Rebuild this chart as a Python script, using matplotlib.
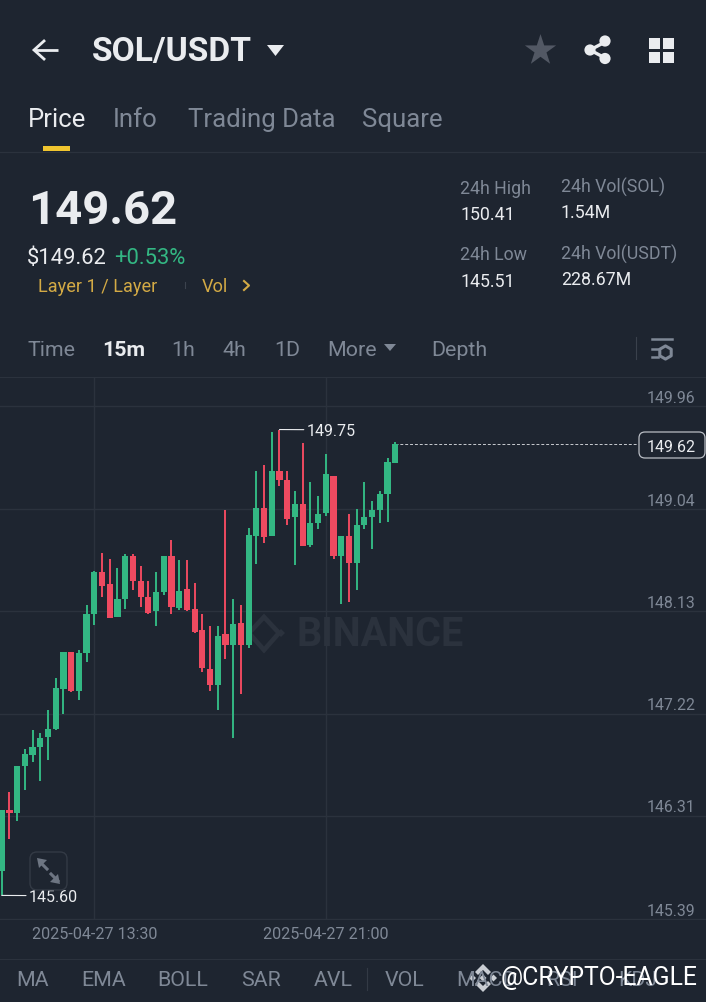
import matplotlib
matplotlib.use("Agg")
import matplotlib.pyplot as plt
from matplotlib.patches import Rectangle, FancyBboxPatch, Polygon, Circle

plt.rcParams['font.family'] = ['Roboto', 'DejaVu Sans']

# ---------- data ----------
opens = [145.82, 146.36, 146.33, 146.75, 146.85, 146.92, 147.01, 147.08, 147.44, 147.77, 147.42, 147.76, 148.11,
         148.48, 148.37, 148.08, 148.24, 148.62, 148.40, 148.26, 148.13, 148.30, 148.62, 148.16, 148.33, 148.15,
         147.96, 147.62, 147.47, 147.93, 147.83, 148.03, 147.83, 148.80, 149.05, 148.80, 149.38, 149.30, 148.97,
         149.09, 148.72, 148.92, 149.01, 149.34, 148.62, 148.80, 148.56, 148.90, 148.97, 149.03, 149.18, 149.45]
closes = [146.36, 146.33, 146.75, 146.86, 146.92, 147.00, 147.08, 147.45, 147.77, 147.42, 147.76, 148.11, 148.48,
          148.36, 148.07, 148.24, 148.62, 148.40, 148.26, 148.12, 148.30, 148.62, 148.17, 148.31, 148.14, 147.95,
          147.63, 147.47, 147.91, 147.83, 148.02, 147.83, 148.81, 149.05, 148.79, 149.38, 149.30, 148.95, 149.09,
          148.71, 148.92, 149.00, 149.35, 148.62, 148.80, 148.56, 148.90, 148.97, 149.03, 149.18, 149.46, 149.62]
highs = [146.36, 146.52, 146.75, 146.90, 147.07, 147.05, 147.25, 147.54, 147.77, 147.77, 147.79, 148.19, 148.49,
         148.65, 148.60, 148.52, 148.64, 148.64, 148.53, 148.40, 148.48, 148.62, 148.77, 148.59, 148.59, 148.38,
         148.11, 148.00, 148.00, 149.03, 148.24, 148.19, 148.87, 149.38, 149.43, 149.73, 149.75, 149.38, 149.20,
         149.63, 149.28, 149.16, 149.53, 149.34, 148.80, 149.00, 149.04, 149.28, 149.11, 149.20, 149.50, 149.64]
lows = [145.60, 146.10, 146.26, 146.54, 146.79, 146.62, 146.81, 147.07, 147.22, 147.41, 147.34, 147.68, 148.01,
        148.26, 148.07, 148.08, 148.15, 148.32, 148.17, 148.11, 148.00, 148.28, 148.11, 148.14, 148.13, 147.94,
        147.59, 147.42, 147.25, 147.71, 147.00, 147.39, 147.80, 148.55, 148.74, 148.80, 149.25, 148.90, 148.54,
        148.71, 148.70, 148.86, 148.98, 148.60, 148.20, 148.21, 148.32, 148.86, 148.69, 148.92, 148.93, 149.45]
price_ticks = [149.96, 149.04, 148.13, 147.22, 146.31, 145.39]
time_ticks = [12, 42]
time_labels = ["2025-04-27 13:30", "2025-04-27 21:00"]
last_price = 149.62
max_price = 149.75
max_idx = 36
min_price = 145.60
min_idx = 0

# ---------- palette ----------
BG = "#1e2530"
GRID = "#2b323d"
GREEN = "#33b783"
RED = "#ee4a60"
GRAY = "#7f8896"
WHITE = "#eaecef"
GOLD = "#d3aa45"
MARK = "#2b323d"

W, H = 706, 1002
fig = plt.figure(figsize=(W / 100, H / 100), dpi=100, facecolor=BG)

# overlay in screen pixels for the app furniture
ui = fig.add_axes([0, 0, 1, 1], zorder=3)
ui.set_xlim(0, W)
ui.set_ylim(H, 0)
ui.axis("off")

# ---------- chart ----------
top, bot = 377, 919
ax = fig.add_axes([0, 1 - bot / H, 1, (bot - top) / H], zorder=2, facecolor=BG)
ax.set_xlim(-0.22, 91.27)
ax.set_ylim(145.392, 150.218)
for s in ax.spines.values():
    s.set_visible(False)
for side in ("top", "bottom"):
    ax.spines[side].set_visible(True)
    ax.spines[side].set_color(GRID)
    ax.spines[side].set_linewidth(0.8)
ax.set_yticks(price_ticks)
ax.set_xticks(time_ticks)
ax.set_yticklabels([])
ax.set_xticklabels(time_labels, color=GRAY, fontsize=11.6)
ax.tick_params(axis="both", length=0)
ax.tick_params(axis="x", pad=6)
ax.grid(True, color=GRID, linewidth=1.0)
ax.set_axisbelow(True)

for p in price_ticks:
    ax.annotate(f"{p:.2f}", xy=(1, p), xycoords=ax.get_yaxis_transform(), xytext=(-7.5, 0.3),
                textcoords="offset points", ha="right", va="bottom", color=GRAY, fontsize=11.4,
                annotation_clip=False)

# watermark (behind the candles)
ax.text(380, 635, "BINANCE", transform=ui.transData, color=MARK, fontsize=28.5, fontweight="bold",
        ha="center", va="center", zorder=0.5)
ax.add_patch(Polygon([(249, 633), (264, 617), (279, 633), (264, 650)], closed=True, fc="none", ec=MARK, lw=3.4,
                     transform=ui.transData, zorder=0.5))
ax.add_patch(Polygon([(277, 633), (281, 629), (285, 633), (281, 637)], closed=True, fc=MARK, ec="none",
                     transform=ui.transData, zorder=0.5))

# candles
xs = list(range(len(opens)))
colors = [GREEN if c >= o else RED for o, c in zip(opens, closes)]
ax.vlines(xs, lows, highs, colors=colors, linewidth=1.4, zorder=3)
ax.bar(xs, [abs(c - o) for o, c in zip(opens, closes)], bottom=[min(o, c) for o, c in zip(opens, closes)],
       width=0.8, color=colors, linewidth=0, zorder=3)

# extreme labels
ax.annotate(f"{max_price:.2f}", xy=(max_idx, max_price), xytext=(19.5, -1.5), textcoords="offset points",
            color=WHITE, fontsize=11.5, va="center", ha="left",
            arrowprops=dict(arrowstyle="-", color=WHITE, lw=0.8, shrinkA=0, shrinkB=0, relpos=(0, 0.63)))
ax.annotate(f"{min_price:.2f}", xy=(min_idx, min_price), xytext=(19.5, -1.5), textcoords="offset points",
            color=WHITE, fontsize=11.5, va="center", ha="left",
            arrowprops=dict(arrowstyle="-", color=WHITE, lw=0.8, shrinkA=0, shrinkB=0, relpos=(0, 0.63)))

# last price line and box
ax.plot([xs[-1], 82.4], [last_price, last_price], color="#c9ccd1", lw=0.7, ls=(0, (3, 2)), zorder=2)
ui.add_patch(FancyBboxPatch((639, 432), 66, 26, boxstyle="round,pad=0,rounding_size=6", fc=BG,
                            ec="#b9bdc4", lw=0.9))
ui.text(671.5, 448, f"{last_price:.2f}", color=WHITE, fontsize=11.5, ha="center", va="center")

# expand button
ui.add_patch(FancyBboxPatch((30, 852), 37, 38, boxstyle="round,pad=0,rounding_size=7", fc=BG,
                            ec="#333a45", lw=1.0))
for p1, p2 in [((40, 862), (47, 869)), ((58, 881), (51, 874))]:
    ui.plot([p1[0], p2[0]], [p1[1], p2[1]], color="#6d7582", lw=2.2)
ui.add_patch(Polygon([(37, 858), (47, 860), (39, 868)], fc="#6d7582", ec="none"))
ui.add_patch(Polygon([(60, 884), (50, 882), (58, 874)], fc="#6d7582", ec="none"))

# ---------- header ----------
ui.plot([35, 58], [50, 50], color=WHITE, lw=2.0, solid_capstyle="butt")
ui.plot([44, 34, 44], [41, 50, 59], color=WHITE, lw=2.0, solid_joinstyle="miter")
ui.text(92, 52, "SOL/USDT", color=WHITE, fontsize=24.2, fontweight="bold", va="center", ha="left")
ui.add_patch(Polygon([(267, 45), (284, 45), (275.5, 56)], fc=WHITE, ec="none"))
ui.scatter([540], [50], marker="*", s=560, color="#525864", linewidths=0)
ui.plot([607, 590, 607], [41, 50, 59], color=WHITE, lw=2.4)
for c in [(605, 41), (590, 50), (605, 58.5)]:
    ui.add_patch(Circle(c, 5.6, fc=WHITE, ec="none"))
for x0, y0 in [(649, 38), (663, 38), (649, 52), (663, 52)]:
    ui.add_patch(Rectangle((x0, y0), 11, 11, fc=WHITE, ec="none"))

ui.text(28, 120, "Price", color=WHITE, fontsize=18.5, va="center")
ui.text(113, 120, "Info", color=GRAY, fontsize=18.5, va="center")
ui.text(188, 120, "Trading Data", color=GRAY, fontsize=18.5, va="center")
ui.text(362, 120, "Square", color=GRAY, fontsize=18.5, va="center")
ui.add_patch(Rectangle((43, 146), 27, 5, fc="#f0c52f", ec="none"))
ui.plot([0, W], [152, 152], color=GRID, lw=0.9)

# ---------- price block ----------
ui.text(28, 211, "149.62", color=WHITE, fontsize=34, fontweight="bold", va="center")
ui.text(27, 258, "$149.62", color=WHITE, fontsize=15.8, va="center")
ui.text(114, 258, "+0.53%", color=GREEN, fontsize=15.8, va="center")
ui.text(38, 287, "Layer 1 / Layer", color=GOLD, fontsize=13.1, va="center")
ui.text(202, 287, "Vol", color=GOLD, fontsize=13.1, va="center")
ui.plot([244, 249, 244], [281, 285.5, 290], color=GOLD, lw=1.5)
ui.plot([185, 185], [282, 288], color="#3c434e", lw=0.8)

for x0, y0, s, c in [(460, 189, "24h High", GRAY), (460, 215, "150.41", WHITE), (460, 255, "24h Low", GRAY),
                     (460, 282, "145.51", WHITE), (561, 187, "24h Vol(SOL)", GRAY), (561, 213, "1.54M", WHITE),
                     (561, 254, "24h Vol(USDT)", GRAY), (561, 280, "228.67M", WHITE)]:
    ui.text(x0, y0, s, color=c, fontsize=12.8, va="center")

# ---------- interval row ----------
for x0, s, c, w in [(27, "Time", GRAY, "normal"), (102, "15m", WHITE, "bold"), (171, "1h", GRAY, "normal"),
                    (222, "4h", GRAY, "normal"), (274, "1D", GRAY, "normal"), (327, "More", GRAY, "normal"),
                    (431, "Depth", GRAY, "normal")]:
    ui.text(x0, 351, s, color=c, fontsize=15.4, fontweight=w, va="center")
ui.add_patch(Polygon([(384, 344), (396, 344), (390, 351)], fc=GRAY, ec="none"))
ui.plot([636, 636], [337, 359], color="#3a414c", lw=0.8)
for y0, x1 in [(339, 672), (349, 658), (357, 658)]:
    ui.plot([652, x1], [y0, y0], color=GRAY, lw=1.8)
ui.scatter([665], [352], marker="h", s=90, facecolor=BG, edgecolor=GRAY, linewidths=2.2)

# ---------- bottom row ----------
ui.plot([0, W], [959, 959], color=GRID, lw=0.8)
for x0, s in [(16, "MA"), (81, "EMA"), (157, "BOLL"), (241, "SAR"), (314, "AVL"), (385, "VOL"), (456, "MACD"),
              (546, "RSI"), (618, "KDJ")]:
    ui.text(x0, 980, s, color=GRAY, fontsize=15.4, va="center")
ui.plot([367, 367], [968, 990], color="#333a45", lw=0.8)

# ---------- overlaid handle ----------
LOGO = "#c9cdd3"
cx, cy = 483, 978
ui.add_patch(Polygon([(cx - 8, cy - 6), (cx, cy - 14), (cx + 8, cy - 6), (cx + 5, cy - 3), (cx, cy - 8), (cx - 5, cy - 3)],
                     fc=LOGO, ec="none"))
ui.add_patch(Polygon([(cx - 8, cy + 6), (cx, cy + 14), (cx + 8, cy + 6), (cx + 5, cy + 3), (cx, cy + 8), (cx - 5, cy + 3)],
                     fc=LOGO, ec="none"))
for ddx in (-10.5, 0, 10.5):
    ui.add_patch(Polygon([(cx + ddx - 3.5, cy), (cx + ddx, cy - 3.5), (cx + ddx + 3.5, cy), (cx + ddx, cy + 3.5)],
                         fc=LOGO, ec="none"))
ui.text(501, 978, "@CRYPTO-EAGLE", color="white", fontsize=17.8, va="center", ha="left")

fig.savefig("out.png", dpi=100, facecolor=BG)
